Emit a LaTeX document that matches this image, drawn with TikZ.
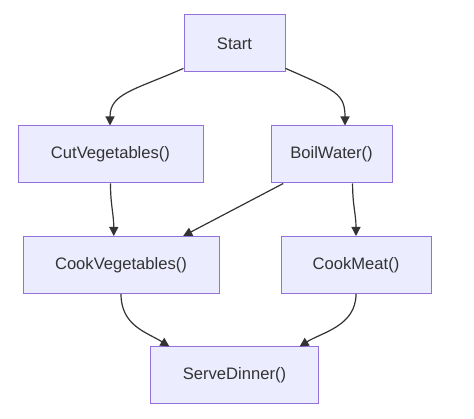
\documentclass[tikz,border=0pt]{standalone}
\usepackage{fontspec}
\setmainfont{Liberation Sans}
\usetikzlibrary{arrows.meta}
\definecolor{boxfill}{HTML}{ECECFF}
\definecolor{boxline}{HTML}{9370DB}
\definecolor{edgecol}{HTML}{333333}
\definecolor{txt}{HTML}{333333}
\tikzset{
  flowbox/.style={draw=boxline, fill=boxfill, line width=1pt, inner sep=0pt,
    text=txt, font=\fontsize{16.6}{19}\selectfont},
  flowedge/.style={draw=edgecol, line width=1.2pt,
    -{Triangle[length=9pt,width=9pt]}}
}
\begin{document}
\begin{tikzpicture}[x=1pt,y=-1pt]
\useasboundingbox (0,0) rectangle (474,419);
\node[flowbox, minimum width=101pt, minimum height=57pt] (start) at (234.5,43.5) {Start};
\node[flowbox, minimum width=185pt, minimum height=57pt] (cut) at (110.5,154.5) {CutVegetables()};
\node[flowbox, minimum width=121pt, minimum height=57pt] (boil) at (331.5,154.5) {BoilWater()};
\node[flowbox, minimum width=196pt, minimum height=57pt] (cookveg) at (121,265) {CookVegetables()};
\node[flowbox, minimum width=150pt, minimum height=57pt] (meat) at (356,265) {CookMeat()};
\node[flowbox, minimum width=168pt, minimum height=57pt] (serve) at (234.5,375.5) {ServeDinner()};

\draw[flowedge] (start.206) .. controls +(-50,22) and +(0,-32) .. ([xshift=-0.5pt]cut.north);
\draw[flowedge] (start.334) .. controls +(50,22) and +(0,-32) .. ([xshift=13.5pt]boil.north);
\draw[flowedge] (cut.south) .. controls +(0,22) and +(0,-22) .. (cookveg.104);
\draw[flowedge] (boil.211) -- (cookveg.25);
\draw[flowedge] (boil.306) .. controls +(0,22) and +(0,-22) .. (meat.north);
\draw[flowedge] (cookveg.south) .. controls +(0,32) and +(-22,-14) .. (serve.156);
\draw[flowedge] (meat.south) .. controls +(0,32) and +(22,-14) .. (serve.24);
\end{tikzpicture}
\end{document}
